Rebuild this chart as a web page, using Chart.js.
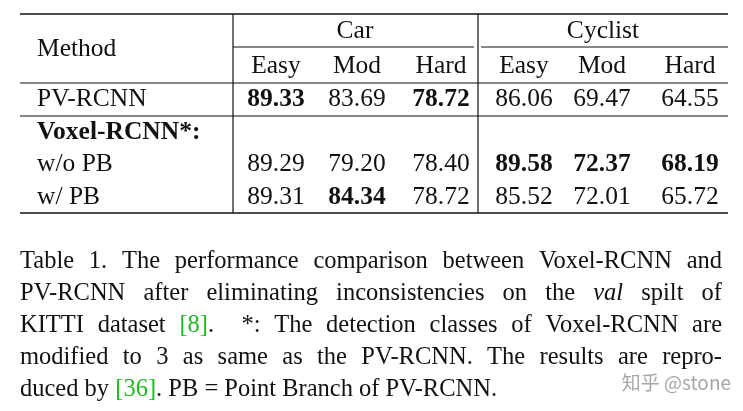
<!DOCTYPE html>
<html>
<head>
<meta charset="utf-8">
<script src="https://cdn.jsdelivr.net/npm/chart.js@4"></script>
<style>
  html, body { margin: 0; padding: 0; background: #fff; }
</style>
</head>
<body>
<canvas id="tbl" width="743" height="411"></canvas>
<script>
// table data
const groups = ['Car', 'Cyclist'];
const columns = ['Easy', 'Mod', 'Hard', 'Easy', 'Mod', 'Hard'];
const methods = ['PV-RCNN', 'Voxel-RCNN*:', 'w/o PB', 'w/ PB'];
const values = [
  [89.33, 83.69, 78.72, 86.06, 69.47, 64.55],
  null,
  [89.29, 79.20, 78.40, 89.58, 72.37, 68.19],
  [89.31, 84.34, 78.72, 85.52, 72.01, 65.72]
];
const bold = [
  [1, 0, 1, 0, 0, 0],
  null,
  [0, 0, 0, 1, 1, 1],
  [0, 1, 0, 0, 0, 0]
];
// caption lines, each a list of [text, style] ('', 'i' italic, 'g' green link)
const caption = [
  [['Table 1. The performance comparison between Voxel-RCNN and', '']],
  [['PV-RCNN after eliminating inconsistencies on the ', ''], ['val', 'i'], [' spilt of', '']],
  [['KITTI dataset ', ''], ['[8]', 'g'], ['.  *: The detection classes of Voxel-RCNN are', '']],
  [['modified to 3 as same as the PV-RCNN. The results are repro-', '']],
  [['duced by ', ''], ['[36]', 'g'], ['. PB = Point Branch of PV-RCNN.', '']]
];

const colX = [276, 357, 441, 524, 602, 690];
const groupX = [355, 603];
const rowY = [99, 132, 164, 197];
const FONT = '"Liberation Serif", "DejaVu Serif", serif';
const TSIZE = 25.5;
const CSIZE = 24.5;

const tablePlugin = {
  id: 'tablePlugin',
  afterDraw(chart) {
    const ctx = chart.ctx;
    const xs = chart.scales.x, ys = chart.scales.y;
    const X = v => xs.getPixelForValue(v);
    const Y = v => ys.getPixelForValue(v);
    ctx.save();
    ctx.fillStyle = '#111';
    ctx.strokeStyle = '#111';
    const hline = (x1, x2, y, w) => {
      ctx.lineWidth = w; ctx.beginPath();
      ctx.moveTo(X(x1), Y(y)); ctx.lineTo(X(x2), Y(y)); ctx.stroke();
    };
    const vline = (x, y1, y2) => {
      ctx.lineWidth = 1.2; ctx.beginPath();
      ctx.moveTo(X(x), Y(y1)); ctx.lineTo(X(x), Y(y2)); ctx.stroke();
    };
    hline(20, 728, 14, 1.5);
    hline(233, 474, 47, 1.2);
    hline(481, 728, 47, 1.2);
    hline(20, 728, 83, 1.2);
    hline(20, 728, 116, 1.2);
    hline(20, 728, 213, 1.5);
    vline(233, 14, 213);
    vline(478, 14, 213);

    const tf = b => (b ? 'bold ' : '') + TSIZE + 'px ' + FONT;
    ctx.textBaseline = 'middle';
    ctx.font = tf(false);
    ctx.textAlign = 'left';
    ctx.fillText('Method', X(37), Y(49));
    ctx.textAlign = 'center';
    groups.forEach((g, i) => ctx.fillText(g, X(groupX[i]), Y(31)));
    columns.forEach((c, i) => ctx.fillText(c, X(colX[i]), Y(66)));
    methods.forEach((m, r) => {
      ctx.textAlign = 'left';
      ctx.font = tf(r === 1);
      ctx.fillText(m, X(37), Y(rowY[r]));
      if (!values[r]) return;
      ctx.textAlign = 'center';
      values[r].forEach((v, c) => {
        ctx.font = tf(bold[r][c]);
        ctx.fillText(v.toFixed(2), X(colX[c]), Y(rowY[r]));
      });
    });

    // caption, justified
    ctx.textAlign = 'left';
    caption.forEach((line, li) => {
      const y = Y(262 + li * 32);
      let size = CSIZE;
      const fontFor = s => (s === 'i' ? 'italic ' : '') + size + 'px ' + FONT;
      const tokens = [];
      line.forEach(([t, s]) => {
        t.split(/( +)/).forEach(p => { if (p) tokens.push([p, s]); });
      });
      const last = li === caption.length - 1;
      let wordW, gaps, sp;
      for (;;) {
        wordW = 0; gaps = 0;
        tokens.forEach(([t, s]) => {
          ctx.font = fontFor(s);
          if (/^ +$/.test(t)) gaps += t.length; else wordW += ctx.measureText(t).width;
        });
        ctx.font = fontFor('');
        sp = last ? ctx.measureText(' ').width : (X(722) - X(20) - wordW) / gaps;
        if (last || sp >= 3 || size < 18) break;
        size -= 0.5;
      }
      let x = X(20);
      tokens.forEach(([t, s]) => {
        if (/^ +$/.test(t)) { x += sp * t.length; return; }
        ctx.font = fontFor(s);
        ctx.fillStyle = s === 'g' ? '#22b922' : '#111';
        ctx.fillText(t, x, y);
        x += ctx.measureText(t).width;
      });
    });

    // watermark
    ctx.fillStyle = 'rgba(150,150,150,0.85)';
    ctx.font = '19px "Noto Sans CJK SC", sans-serif';
    ctx.textAlign = 'right';
    ctx.fillText('知乎 @stone', X(731), Y(383));
    ctx.restore();
  }
};

new Chart(document.getElementById('tbl'), {
  type: 'scatter',
  data: { datasets: [{ data: [] }] },
  options: {
    responsive: false,
    animation: false,
    layout: { padding: 0 },
    plugins: { legend: { display: false }, tooltip: { enabled: false } },
    scales: {
      x: { type: 'linear', min: 0, max: 743, display: false },
      y: { type: 'linear', min: 0, max: 411, reverse: true, display: false }
    }
  },
  plugins: [tablePlugin]
});
</script>
</body>
</html>
